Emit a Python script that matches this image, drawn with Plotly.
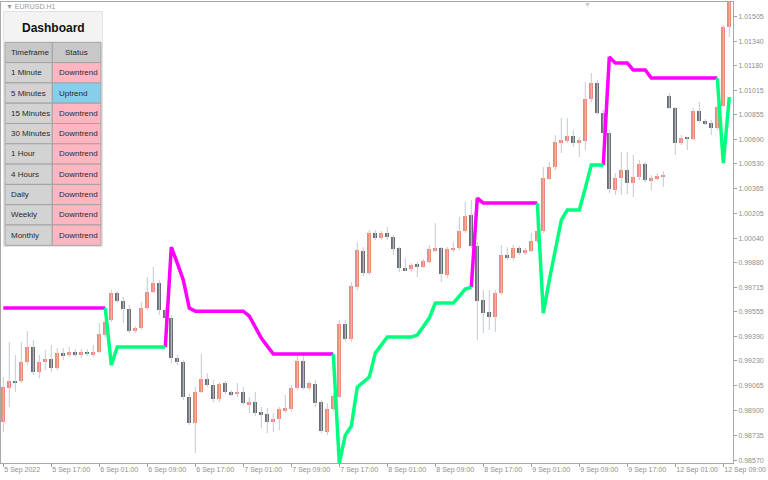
import plotly.graph_objects as go

# ---------------- data (EURUSD H1, bars from 5 Sep 2022 09:00) ----------------
open_ = [
    0.98826, 0.99050, 0.99096, 0.99096, 0.99222, 0.99321, 0.99156, 0.99222, 0.99242, 0.99182,
    0.99281, 0.99275, 0.99288, 0.99275, 0.99288, 0.99268, 0.99288, 0.99400, 0.99499, 0.99677,
    0.99624, 0.99572, 0.99426, 0.99446, 0.99578, 0.99684, 0.99743, 0.99565, 0.99512, 0.99248,
    0.99222, 0.98991, 0.98819, 0.99024, 0.99110, 0.99070, 0.98978, 0.99083, 0.99024, 0.99014,
    0.99024, 0.98945, 0.98958, 0.98892, 0.98879, 0.98826, 0.98846, 0.98905, 0.98912, 0.99050,
    0.99228, 0.99050, 0.99077, 0.98958, 0.98760, 0.98912, 0.98991, 0.99473, 0.99374, 0.99717,
    0.99954, 0.99809, 1.00073, 1.00040, 1.00073, 1.00047, 0.99974, 0.99842, 0.99836, 0.99869,
    0.99849, 0.99882, 0.99961, 0.99974, 0.99796, 0.99964, 0.99974, 1.00086, 1.00192, 0.99987,
    0.99631, 0.99552, 0.99519, 0.99677, 0.99928, 0.99908, 0.99974, 0.99941, 0.99954, 1.00020,
    1.00086, 1.00430, 1.00509, 1.00667, 1.00680, 1.00713, 1.00667, 1.00680, 1.00958, 1.01063,
    1.00865, 1.00733, 1.00357, 1.00436, 1.00489, 1.00403, 1.00443, 1.00529, 1.00416, 1.00436,
    1.00445, 1.00977, 1.00898, 1.00667, 1.00700, 1.00694, 1.00878, 1.00812, 1.00799, 1.00766,
    1.00911, 1.01433]

high_ = [
    0.99123, 0.99354, 0.99268, 0.99354, 0.99426, 0.99367, 0.99268, 0.99301, 0.99334, 0.99314,
    0.99314, 0.99321, 0.99308, 0.99308, 0.99308, 0.99334, 0.99479, 0.99512, 0.99697, 0.99690,
    0.99651, 0.99598, 0.99459, 0.99618, 0.99783, 0.99849, 0.99763, 0.99585, 0.99532, 0.99268,
    0.99235, 0.99017, 0.99057, 0.99275, 0.99149, 0.99103, 0.99090, 0.99096, 0.99037, 0.99083,
    0.99057, 0.98991, 0.99024, 0.98925, 0.98918, 0.98885, 0.98925, 0.99004, 0.99070, 0.99275,
    0.99275, 0.99096, 0.99103, 0.98971, 0.98951, 0.99017, 0.99499, 0.99499, 0.99750, 1.00014,
    0.99981, 1.00093, 1.00093, 1.00086, 1.00113, 1.00060, 0.99981, 0.99908, 0.99875, 0.99882,
    0.99902, 0.99994, 1.00139, 0.99981, 0.99981, 1.00014, 1.00179, 1.00278, 1.00291, 1.00014,
    0.99697, 0.99697, 0.99697, 0.99994, 0.99981, 0.99994, 0.99987, 0.99974, 1.00073, 1.00139,
    1.00509, 1.00542, 1.00720, 1.00832, 1.00832, 1.00753, 1.00707, 1.01070, 1.01129, 1.01083,
    1.00885, 1.00753, 1.00469, 1.00608, 1.00608, 1.00588, 1.00555, 1.00542, 1.00456, 1.00469,
    1.00482, 1.00997, 1.00905, 1.00720, 1.00707, 1.00898, 1.00938, 1.00825, 1.00819, 1.00918,
    1.01446, 1.01644]

low_ = [
    0.98760, 0.98925, 0.99024, 0.99083, 0.99202, 0.99136, 0.99116, 0.99169, 0.99156, 0.99169,
    0.99235, 0.99255, 0.99255, 0.99248, 0.99261, 0.99255, 0.99281, 0.99387, 0.99486, 0.99611,
    0.99479, 0.99413, 0.99413, 0.99433, 0.99565, 0.99677, 0.99532, 0.99499, 0.99215, 0.99202,
    0.98971, 0.98806, 0.98621, 0.99017, 0.99057, 0.98958, 0.98958, 0.99011, 0.98997, 0.98991,
    0.98938, 0.98885, 0.98865, 0.98786, 0.98753, 0.98760, 0.98773, 0.98885, 0.98892, 0.99037,
    0.99037, 0.99037, 0.98925, 0.98753, 0.98740, 0.98898, 0.98984, 0.99354, 0.99354, 0.99697,
    0.99789, 0.99796, 1.00027, 1.00027, 1.00027, 0.99928, 0.99816, 0.99822, 0.99816, 0.99783,
    0.99842, 0.99875, 0.99948, 0.99750, 0.99776, 0.99948, 0.99961, 1.00073, 0.99974, 0.99367,
    0.99413, 0.99433, 0.99420, 0.99664, 0.99895, 0.99895, 0.99928, 0.99928, 0.99948, 1.00007,
    1.00073, 1.00423, 1.00489, 1.00601, 1.00667, 1.00641, 1.00575, 1.00621, 1.00938, 1.00852,
    1.00707, 1.00337, 1.00324, 1.00324, 1.00331, 1.00311, 1.00423, 1.00410, 1.00357, 1.00423,
    1.00377, 1.00892, 1.00588, 1.00654, 1.00621, 1.00687, 1.00799, 1.00786, 1.00720, 1.00753,
    1.00905, 1.01367]

close_ = [
    0.99057, 0.99096, 0.99090, 0.99222, 0.99321, 0.99156, 0.99222, 0.99242, 0.99182, 0.99281,
    0.99268, 0.99288, 0.99268, 0.99288, 0.99281, 0.99288, 0.99407, 0.99486, 0.99677, 0.99624,
    0.99572, 0.99426, 0.99446, 0.99578, 0.99684, 0.99743, 0.99565, 0.99512, 0.99248, 0.99222,
    0.98991, 0.98819, 0.99024, 0.99110, 0.99070, 0.98978, 0.99077, 0.99024, 0.99011, 0.99024,
    0.98951, 0.98958, 0.98885, 0.98872, 0.98826, 0.98846, 0.98912, 0.98918, 0.99050, 0.99228,
    0.99050, 0.99083, 0.98951, 0.98766, 0.98912, 0.98997, 0.99473, 0.99374, 0.99723, 0.99961,
    0.99809, 1.00073, 1.00040, 1.00073, 1.00047, 0.99968, 0.99842, 0.99829, 0.99862, 0.99849,
    0.99888, 0.99968, 0.99974, 0.99803, 0.99968, 0.99974, 1.00086, 1.00185, 0.99987, 0.99624,
    0.99545, 0.99519, 0.99677, 0.99928, 0.99908, 0.99974, 0.99941, 0.99961, 1.00020, 1.00086,
    1.00436, 1.00509, 1.00674, 1.00687, 1.00713, 1.00667, 1.00687, 1.00958, 1.01063, 1.00865,
    1.00733, 1.00364, 1.00436, 1.00489, 1.00403, 1.00443, 1.00529, 1.00423, 1.00436, 1.00449,
    1.00449, 1.00898, 1.00667, 1.00700, 1.00694, 1.00878, 1.00812, 1.00799, 1.00766, 1.00905,
    1.01433, 1.01611]

# SuperTrend: downtrend (magenta, above price) and uptrend (green, below price)
trend_down = [
    0.99578, 0.99578, 0.99578, 0.99578, 0.99578, 0.99578, 0.99578, 0.99578, 0.99578, 0.99578,
    0.99578, 0.99578, 0.99578, 0.99578, 0.99578, 0.99578, 0.99578, 0.99578, None, None,
    None, None, None, None, None, None, None, 0.99321, 0.99981, 0.99875,
    0.99763, 0.99578, 0.99558, 0.99558, 0.99558, 0.99558, 0.99558, 0.99558, 0.99558, 0.99558,
    0.99558, 0.99525, 0.99453, 0.99380, 0.99327, 0.99275, 0.99275, 0.99275, 0.99275, 0.99275,
    0.99275, 0.99275, 0.99275, 0.99275, 0.99275, 0.99275, None, None, None, None,
    None, None, None, None, None, None, None, None, None, None,
    None, None, None, None, None, None, None, None, 0.99717, 1.00304,
    1.00271, 1.00271, 1.00271, 1.00271, 1.00271, 1.00271, 1.00271, 1.00271, 1.00271, 1.00271,
    None, None, None, None, None, None, None, None, None, None,
    1.00522, 1.01235, 1.01195, 1.01195, 1.01195, 1.01149, 1.01149, 1.01149, 1.01096, 1.01096,
    1.01096, 1.01096, 1.01096, 1.01096, 1.01096, 1.01096, 1.01096, 1.01096, 1.01096, 1.01096,
    None, None]

trend_up = [
    None, None, None, None, None, None, None, None, None, None,
    None, None, None, None, None, None, None, 0.99578, 0.99202, 0.99321,
    0.99321, 0.99321, 0.99321, 0.99321, 0.99321, 0.99321, 0.99321, 0.99321, None, None,
    None, None, None, None, None, None, None, None, None, None,
    None, None, None, None, None, None, None, None, None, None,
    None, None, None, None, None, 0.99275, 0.98555, 0.98740, 0.98799, 0.99057,
    0.99090, 0.99123, 0.99281, 0.99334, 0.99387, 0.99387, 0.99387, 0.99387, 0.99387, 0.99400,
    0.99453, 0.99512, 0.99611, 0.99611, 0.99611, 0.99611, 0.99657, 0.99704, 0.99717, None,
    None, None, None, None, None, None, None, None, None, 1.00271,
    0.99545, 0.99763, 0.99974, 1.00159, 1.00225, 1.00225, 1.00225, 1.00370, 1.00522, 1.00522,
    1.00522, None, None, None, None, None, None, None, None, None,
    None, None, None, None, None, None, None, None, None, 1.01096,
    1.00535, 1.00971]

x_tick_bars = [0, 8, 16, 24, 32, 40, 48, 56, 64, 72, 80, 88, 96, 104, 112, 120]
x_tick_labels = ["5 Sep 2022", "5 Sep 17:00", "6 Sep 01:00", "6 Sep 09:00", "6 Sep 17:00",
                 "7 Sep 01:00", "7 Sep 09:00", "7 Sep 17:00", "8 Sep 01:00", "8 Sep 09:00",
                 "8 Sep 17:00", "9 Sep 01:00", "9 Sep 09:00", "9 Sep 17:00", "12 Sep 01:00",
                 "12 Sep 09:00"]
y_ticks = [0.98570, 0.98735, 0.98900, 0.99065, 0.99230, 0.99390, 0.99555, 0.99715, 0.99880,
           1.00040, 1.00205, 1.00365, 1.00530, 1.00690, 1.00855, 1.01015, 1.01180, 1.01340,
           1.01505]
y_tick_labels = ["0.98570", "0.98735", "0.98900", "0.99065", "0.99230", "0.99390", "0.99555",
                 "0.99715", "0.99880", "1.00040", "1.00205", "1.00365", "1.00530", "1.00690",
                 "1.00855", "1.01015", "1.01180", "1.01340", "1.01505"]

timeframes = ["1 Minute", "5 Minutes", "15 Minutes", "30 Minutes", "1 Hour", "4 Hours",
              "Daily", "Weekly", "Monthly"]
statuses = ["Downtrend", "Uptrend", "Downtrend", "Downtrend", "Downtrend", "Downtrend",
            "Downtrend", "Downtrend", "Downtrend"]

# ---------------- styling ----------------
BULL = "#F08878"
BEAR = "#696C72"
WICK = "#C3C8D1"
MAGENTA = "#FF00FF"
GREEN = "#00FF7F"
AXIS_TXT = "#8E8E8E"
FONT = "Liberation Sans"
DOJI_MIN = 0.00007

W, H = 768, 480
ML, MR, MT, MB = 1, 35, 2, 17
PW, PH = W - ML - MR, H - MT - MB


def px(x):
    return (x - ML) / PW


def py(y):
    return (H - MB - y) / PH


bars = list(range(len(open_)))
colors = [BULL if c >= o else BEAR for o, c in zip(open_, close_)]
body_base = [min(o, c) for o, c in zip(open_, close_)]
body_h = [max(abs(c - o), DOJI_MIN) for o, c in zip(open_, close_)]

wick_x, wick_y = [], []
for i, lo, hi in zip(bars, low_, high_):
    wick_x += [i, i, None]
    wick_y += [lo, hi, None]

fig = go.Figure()
fig.add_trace(go.Scatter(x=wick_x, y=wick_y, mode="lines",
                         line=dict(color=WICK, width=1), hoverinfo="skip"))
fig.add_trace(go.Bar(x=bars, y=body_h, base=body_base, width=0.68,
                     marker=dict(color=colors, line=dict(width=0))))
fig.add_trace(go.Scatter(x=bars, y=trend_down, mode="lines",
                         line=dict(color=MAGENTA, width=3.5), connectgaps=False))
fig.add_trace(go.Scatter(x=bars, y=trend_up, mode="lines",
                         line=dict(color=GREEN, width=3.5), connectgaps=False))

x_min = -0.383
fig.update_layout(
    width=W, height=H,
    margin=dict(l=ML, r=MR, t=MT, b=MB, pad=0, autoexpand=False),
    paper_bgcolor="white", plot_bgcolor="white",
    showlegend=False, barmode="overlay", bargap=0,
    font=dict(family=FONT, size=7, color=AXIS_TXT),
    xaxis=dict(range=[x_min, x_min + PW / 6.0], tickvals=x_tick_bars, ticktext=x_tick_labels,
               ticks="outside", ticklen=3, tickcolor="#A0A0A0", tickwidth=1,
               ticklabelposition="outside right", tickangle=0, automargin=False,
               tickfont=dict(family=FONT, size=7, color=AXIS_TXT),
               showgrid=False, zeroline=False, showline=True, linecolor="#A8A8A8",
               linewidth=1, mirror=True, fixedrange=True),
    yaxis=dict(side="right", range=[0.98556, 1.01598], tickvals=y_ticks,
               ticktext=y_tick_labels, tickangle=0, automargin=False,
               ticks="outside", ticklen=3, tickcolor="#A0A0A0", tickwidth=1,
               tickfont=dict(family=FONT, size=7, color=AXIS_TXT),
               showgrid=False, zeroline=False, showline=True, linecolor="#A8A8A8",
               linewidth=1, mirror=True, fixedrange=True),
)

shapes = []
annotations = []

# dashboard panel
shapes.append(dict(type="rect", xref="paper", yref="paper", layer="above",
                   x0=px(3.5), x1=px(102.5), y0=py(246.5), y1=py(11.5),
                   fillcolor="#F3F3F3", line=dict(color="#E2E2E2", width=1)))
annotations.append(dict(xref="paper", yref="paper", x=px(53), y=py(27.5),
                        text="Dashboard", showarrow=False, xanchor="center", yanchor="middle",
                        font=dict(family=FONT, size=12, color="#111111", weight="bold")))

col_l, col_m, col_r = 5.0, 52.3, 101.0
row_top, row_h = 42.3, 20.3
HEADER_BG = "#C8C8C8"
LEFT_BG = "#D3D3D3"
CELL_LINE = "#A3A3A3"
TXT = "#2A2A2A"
STATUS_BG = {"Downtrend": "#FFB6C1", "Uptrend": "#87CEEB"}

# header row
for x0, x1 in ((col_l, col_m), (col_m, col_r)):
    shapes.append(dict(type="rect", xref="paper", yref="paper", layer="above",
                       x0=px(x0), x1=px(x1), y0=py(row_top + row_h), y1=py(row_top),
                       fillcolor=HEADER_BG, line=dict(color=CELL_LINE, width=1)))
annotations.append(dict(xref="paper", yref="paper", x=px(9), y=py(row_top + row_h / 2),
                        text="Timeframe", showarrow=False, xanchor="left", yanchor="middle",
                        font=dict(family=FONT, size=8, color=TXT)))
annotations.append(dict(xref="paper", yref="paper", x=px((col_m + col_r) / 2),
                        y=py(row_top + row_h / 2), text="Status", showarrow=False,
                        xanchor="center", yanchor="middle",
                        font=dict(family=FONT, size=8, color=TXT)))

for r, (tf, st) in enumerate(zip(timeframes, statuses)):
    top = row_top + row_h * (r + 1)
    bot = top + row_h
    shapes.append(dict(type="rect", xref="paper", yref="paper", layer="above",
                       x0=px(col_l), x1=px(col_m), y0=py(bot), y1=py(top),
                       fillcolor=LEFT_BG, line=dict(color=CELL_LINE, width=1)))
    shapes.append(dict(type="rect", xref="paper", yref="paper", layer="above",
                       x0=px(col_m), x1=px(col_r), y0=py(bot), y1=py(top),
                       fillcolor=STATUS_BG[st], line=dict(color=CELL_LINE, width=1)))
    annotations.append(dict(xref="paper", yref="paper", x=px(9), y=py(top + row_h / 2),
                            text=tf, showarrow=False, xanchor="left", yanchor="middle",
                            font=dict(family=FONT, size=8, color=TXT)))
    annotations.append(dict(xref="paper", yref="paper", x=px(57), y=py(top + row_h / 2),
                            text=st, showarrow=False, xanchor="left", yanchor="middle",
                            font=dict(family=FONT, size=8, color=TXT)))

# symbol caption and shift marker
annotations.append(dict(xref="paper", yref="paper", x=px(4), y=py(6.5),
                        text="\u25BC EURUSD.H1", showarrow=False, xanchor="left",
                        yanchor="middle", font=dict(family=FONT, size=7, color="#9A9A9A")))
annotations.append(dict(xref="paper", yref="paper", x=px(587), y=py(4),
                        text="\u25BC", showarrow=False, xanchor="center",
                        yanchor="middle", font=dict(family=FONT, size=7, color="#C8C8C8")))

fig.update_layout(shapes=shapes, annotations=annotations)

fig.write_html("out.html", config={"displayModeBar": False},
               post_script="document.body.style.margin='0';document.body.style.padding='0';")
